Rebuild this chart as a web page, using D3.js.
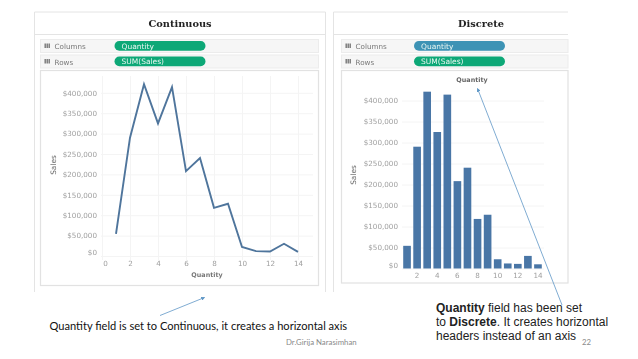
<!DOCTYPE html>
<html>
<head>
<meta charset="utf-8">
<script src="https://cdn.jsdelivr.net/npm/d3@7"></script>
<style>
  html, body { margin: 0; padding: 0; background: #fff; }
  svg { display: block; }
  .tick-label text { font-family: "DejaVu Sans", sans-serif; font-size: 7.2px; fill: #a0a0a0; }
</style>
</head>
<body>
<div id="chart"></div>
<script>
// values
const quantities = [1, 2, 3, 4, 5, 6, 7, 8, 9, 10, 11, 12, 13, 14];
const sales = [54000, 290000, 421000, 325000, 414000, 208000, 240000, 118000, 128000, 22000, 12000, 11000, 30000, 10000];
const salesTicks = [0, 50000, 100000, 150000, 200000, 250000, 300000, 350000, 400000];
const continuousTicks = [0, 2, 4, 6, 8, 10, 12, 14];
const discreteTicks = [2, 4, 6, 8, 10, 12, 14];

const green = "#0fa877";
const teal = "#3d93b5";
const borderCol = "#e4e4e4";
const arrowCol = "#5f97c6";

const svg = d3.select("#chart").append("svg")
    .attr("width", 638)
    .attr("height", 359);

const fmt = d => "$" + d3.format(",")(d);

// the screenshot part is slightly soft, same here
svg.append("defs").append("filter")
    .attr("id", "soft")
    .append("feGaussianBlur")
    .attr("stdDeviation", 0.45);

svg.append("defs").append("marker")
    .attr("id", "head")
    .attr("viewBox", "0 0 6 6")
    .attr("refX", 5).attr("refY", 3)
    .attr("markerWidth", 5).attr("markerHeight", 5)
    .attr("orient", "auto")
    .append("path")
    .attr("d", "M0,0L6,3L0,6Z")
    .attr("fill", arrowCol);

const shot = svg.append("g").attr("filter", "url(#soft)");

// Tableau style frame: header, two shelves and the view box
function drawFrame(f) {
    let g = shot.append("g");

    g.append("path")
        .attr("d", `M${f.left},${f.bottom}V12H${f.right}`)
        .attr("fill", "none").attr("stroke", borderCol);
    g.append("line")
        .attr("x1", f.left).attr("x2", f.right)
        .attr("y1", 34.5).attr("y2", 34.5)
        .attr("stroke", borderCol);
    if (f.closeRight) {
        g.append("line")
            .attr("x1", f.right).attr("x2", f.right)
            .attr("y1", 12).attr("y2", f.bottom)
            .attr("stroke", borderCol);
    }

    g.append("text")
        .attr("x", f.titleX).attr("y", 26.5)
        .attr("text-anchor", "middle")
        .attr("font-family", "DejaVu Serif")
        .attr("font-weight", "bold")
        .attr("font-size", 9.8)
        .attr("fill", "#222")
        .text(f.title);

    const shelves = [
        {name: "Columns", y: 39.5, pill: "Quantity", col: f.columnsCol},
        {name: "Rows", y: 55, pill: "SUM(Sales)", col: green}
    ];
    shelves.forEach(s => {
        g.append("rect")
            .attr("x", f.shelfX).attr("y", s.y)
            .attr("width", f.shelfW).attr("height", 13)
            .attr("fill", "#f6f6f6").attr("stroke", "#ececec");
        // little shelf icon
        d3.range(3).forEach(i => {
            g.append("rect")
                .attr("x", f.shelfX + 4 + i * 2).attr("y", s.y + 4)
                .attr("width", 1.4).attr("height", 4.5)
                .attr("fill", "#777");
        });
        g.append("text")
            .attr("x", f.shelfX + 14).attr("y", s.y + 9.5)
            .attr("font-family", "DejaVu Sans").attr("font-size", 7.2)
            .attr("fill", "#777")
            .text(s.name);
        g.append("rect")
            .attr("x", f.pillX).attr("y", s.y + 1.6)
            .attr("width", 91).attr("height", 9.6)
            .attr("rx", 4.8)
            .attr("fill", s.col);
        g.append("text")
            .attr("x", f.pillX + 7).attr("y", s.y + 9.3)
            .attr("font-family", "DejaVu Sans").attr("font-size", 7.5)
            .attr("fill", "#e8f6f1")
            .text(s.pill);
    });

    g.append("rect")
        .attr("x", f.shelfX).attr("y", 70.5)
        .attr("width", f.shelfW).attr("height", f.viewBottom - 70.5)
        .attr("fill", "#fff").attr("stroke", "#e2e2e2").attr("stroke-width", 1.2);

    return g;
}

// Sales axis, shared by both views. The $0 label sits a bit higher as in Tableau.
function drawSalesAxis(g, y, axisX, gridW, labelX, labelY) {
    let axis = g.append("g")
        .attr("class", "tick-label")
        .attr("transform", `translate(${axisX},0)`)
        .call(d3.axisLeft(y).tickValues(salesTicks).tickSize(-gridW).tickPadding(4).tickFormat(fmt));
    axis.select(".domain").remove();
    axis.selectAll("line").attr("stroke", "#f4f4f4");
    axis.selectAll("text")
        .filter(d => d === 0)
        .attr("dy", "-0.2em");

    g.append("text")
        .attr("transform", `translate(${labelX},${labelY}) rotate(-90)`)
        .attr("text-anchor", "middle")
        .attr("font-family", "DejaVu Sans").attr("font-size", 7.4)
        .attr("fill", "#666")
        .text("Sales");
}

// ---- Continuous ----
const leftFrame = drawFrame({
    left: 34.5, right: 325.5, bottom: 292, closeRight: true,
    title: "Continuous", titleX: 180,
    shelfX: 40.5, shelfW: 278, pillX: 114.5, columnsCol: green,
    viewBottom: 285.5
});

const xCont = d3.scaleLinear().domain([0, 14]).range([102, 298]);
const yCont = d3.scaleLinear().domain([0, 400000]).range([256, 92.8]);

drawSalesAxis(leftFrame, yCont, 101, 212, 56, 165);

let contX = leftFrame.append("g")
    .attr("class", "tick-label")
    .attr("transform", "translate(0,256)")
    .call(d3.axisBottom(xCont).tickValues(continuousTicks).tickSize(-180).tickPadding(5));
contX.select(".domain").remove();
contX.selectAll("line").attr("stroke", "#f4f4f4").attr("y1", 4);
contX.selectAll("text").filter(d => d === 0).attr("dx", "3");

leftFrame.append("path")
    .datum(sales)
    .attr("d", d3.line().x((d, i) => xCont(quantities[i])).y(d => yCont(d)))
    .attr("fill", "none")
    .attr("stroke", "#4f759c")
    .attr("stroke-width", 1.9)
    .attr("stroke-linejoin", "miter");

leftFrame.append("text")
    .attr("x", 207).attr("y", 277)
    .attr("text-anchor", "middle")
    .attr("font-family", "DejaVu Sans").attr("font-weight", "bold").attr("font-size", 6.4)
    .attr("fill", "#777")
    .text("Quantity");

// ---- Discrete ----
const rightFrame = drawFrame({
    left: 333.5, right: 568, bottom: 292, closeRight: false,
    title: "Discrete", titleX: 481,
    shelfX: 341.5, shelfW: 226.5, pillX: 414, columnsCol: teal,
    viewBottom: 283
});

const xDisc = d3.scaleBand().domain(quantities).range([402, 543]).paddingInner(0.24).paddingOuter(0.12);
const yDisc = d3.scaleLinear().domain([0, 400000]).range([268.5, 100.5]);

drawSalesAxis(rightFrame, yDisc, 402, 142, 356, 175);

rightFrame.selectAll(".bar")
    .data(quantities)
    .join("rect")
    .attr("class", "bar")
    .attr("x", d => xDisc(d))
    .attr("y", (d, i) => yDisc(sales[i]))
    .attr("width", xDisc.bandwidth())
    .attr("height", (d, i) => yDisc(0) - yDisc(sales[i]))
    .attr("fill", "#4a76a6");

let discX = rightFrame.append("g")
    .attr("class", "tick-label")
    .attr("transform", "translate(0,270)")
    .call(d3.axisBottom(xDisc).tickValues(discreteTicks).tickSize(0).tickPadding(3));
discX.select(".domain").remove();

rightFrame.append("text")
    .attr("x", 472).attr("y", 81.5)
    .attr("text-anchor", "middle")
    .attr("font-family", "DejaVu Sans").attr("font-weight", "bold").attr("font-size", 6.4)
    .attr("fill", "#666")
    .text("Quantity");

// ---- Slide annotations ----
svg.append("line")
    .attr("x1", 160).attr("y1", 315.5)
    .attr("x2", 204.5).attr("y2", 297.5)
    .attr("stroke", arrowCol).attr("stroke-width", 0.8)
    .attr("marker-end", "url(#head)");

svg.append("line")
    .attr("x1", 562).attr("y1", 305)
    .attr("x2", 477.5).attr("y2", 88.5)
    .attr("stroke", arrowCol).attr("stroke-width", 0.8)
    .attr("marker-end", "url(#head)");

svg.append("text")
    .attr("x", 49.5).attr("y", 330)
    .attr("font-family", "Lato").attr("font-size", 11.1)
    .attr("fill", "#111")
    .text("Quantity field is set to Continuous, it creates a horizontal axis");

const note = svg.append("g")
    .attr("font-family", "Liberation Sans")
    .attr("font-size", 12)
    .attr("fill", "#222");

let line1 = note.append("text").attr("x", 436).attr("y", 312);
line1.append("tspan").attr("font-weight", "bold").text("Quantity");
line1.append("tspan").text(" field has been set");

let line2 = note.append("text").attr("x", 436).attr("y", 326);
line2.append("tspan").text("to ");
line2.append("tspan").attr("font-weight", "bold").text("Discrete");
line2.append("tspan").text(". It creates horizontal");

note.append("text").attr("x", 436).attr("y", 340).text("headers instead of an axis");

svg.append("text")
    .attr("x", 286).attr("y", 345)
    .attr("font-family", "Lato").attr("font-size", 7.8)
    .attr("fill", "#8a8a8a")
    .text("Dr.Girija Narasimhan");

svg.append("text")
    .attr("x", 582).attr("y", 345)
    .attr("font-family", "Lato").attr("font-size", 7.8)
    .attr("fill", "#8a8a8a")
    .text("22");
</script>
</body>
</html>
